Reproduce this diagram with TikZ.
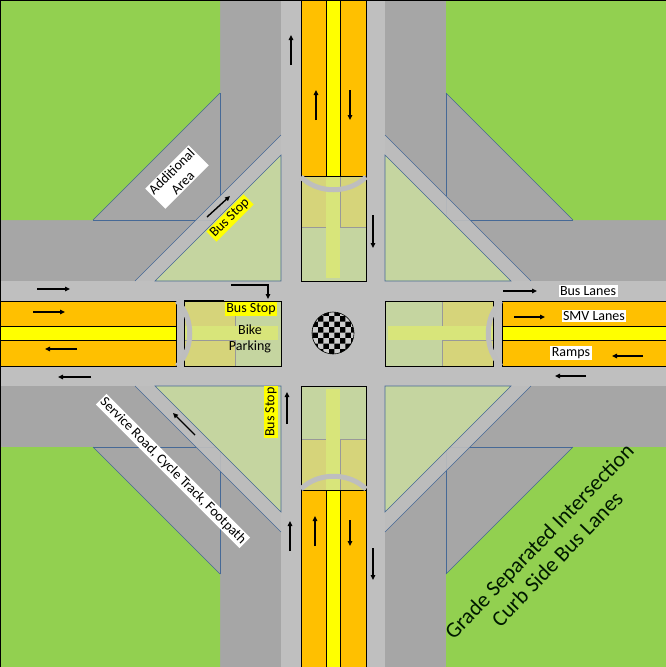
\documentclass[tikz,border=0pt]{standalone}
\usepackage{fontspec}
\setmainfont{Carlito}
\usetikzlibrary{arrows.meta,patterns}
\definecolor{dgray}{HTML}{A6A6A6}
\definecolor{lgray}{HTML}{BFBFBF}
\definecolor{grass}{HTML}{92D050}
\definecolor{orng}{HTML}{FFC000}
\definecolor{yel}{HTML}{FFFF00}
\definecolor{boxg}{RGB}{197,213,160}
\definecolor{olv}{RGB}{214,212,122}
\definecolor{strp}{RGB}{216,229,122}
\definecolor{bline}{RGB}{70,105,150}
\definecolor{arcg}{RGB}{190,190,190}
\tikzset{
 arr/.style={line width=1.4pt,-{Triangle[length=5pt,width=4.5pt]}},
 lbl/.style={fill=white,inner sep=1.5pt,font=\fontsize{14}{15.5}\selectfont,align=center},
 ylbl/.style={fill=yel,inner sep=1.5pt,font=\fontsize{14}{15}\selectfont},
 bl/.style={draw=bline,line width=0.6pt}
}
\newcommand\quadTL{%
 \fill[dgray] (0,0) rectangle (281,281);
 \fill[grass] (0,0) -- (220,0) -- (220,93) -- (93,220) -- (0,220) -- cycle;
 \draw[bl] (220,93) -- (93,220);
 \draw[bl] (220,93) -- (220,220) -- (93,220);
 \fill[lgray,opacity=0.9] (281,135) -- (281,155) -- (155,281) -- (135,281) -- cycle;
 \draw[bl] (281,135) -- (135,281);
 \fill[boxg] (281,155) -- (281,281) -- (155,281) -- cycle;
 \draw[bl] (281,155) -- (281,281) -- (155,281) -- cycle;
}
\newcommand\armT[2]{%
 \fill[orng] (301,0) rectangle (366,#1);
 \fill[yel] (326,0) rectangle (340,#1);
 \draw[line width=0.6pt] (301,-2) rectangle (366,#1);
 \draw[line width=0.6pt] (326,0) -- (326,#1) (340,0) -- (340,#1);
 \fill[boxg] (301,#2) rectangle (366,281);
 \filldraw[fill=olv,draw=gray!80,line width=0.4pt] (301,#2) rectangle (326,#2+51);
 \filldraw[fill=olv,draw=gray!80,line width=0.4pt] (340,#2) rectangle (366,#2+51);
 \fill[strp] (326,#2) rectangle (340,278);
 \draw[line width=0.6pt] (301,#2) rectangle (366,281);
 \draw[arcg,line width=5pt] (301,#1+1) .. controls (318,#1+18) and (349,#1+18) .. (366,#1+1);
}
\begin{document}
\begin{tikzpicture}[x=1pt,y=-1pt]
\useasboundingbox (0,0) rectangle (666,667);
\fill[lgray] (0,0) rectangle (666,667);
\quadTL
\begin{scope}[shift={(666,0)},xscale=-1]\quadTL\end{scope}
\begin{scope}[shift={(0,667)},yscale=-1]\quadTL\end{scope}
\begin{scope}[shift={(666,667)},xscale=-1,yscale=-1]\quadTL\end{scope}
% arms
\armT{176}{176}
\begin{scope}[shift={(0,667)},yscale=-1]\armT{177}{177}\end{scope}
\begin{scope}[cm={0,-1,-1,0,(0,0)}]\armT{176}{184}\end{scope}
\begin{scope}[cm={0,-1,1,0,(666pt,0)}]\armT{164}{173}\end{scope}
% centre circle
\fill[green!15!white] (333,333) circle (21);
\fill[pattern=checkerboard light gray,pattern color=green!50!black] (333,333) circle (21);
\draw[line width=0.6pt] (333,333) circle (21);
% bus stop marks
\draw[line width=1.5pt] (184,301) -- (224,301);
\draw[arr] (231,285) -- (268,285) -- (268,299);
% arrows
\draw[arr] (291,65) -- (291,35);
\draw[arr] (316,120) -- (316,90);
\draw[arr] (350,90) -- (350,120);
\draw[arr] (373,215) -- (373,248);
\draw[arr] (37,289) -- (70,289);
\draw[arr] (33,312) -- (65,312);
\draw[arr] (77,349) -- (45,349);
\draw[arr] (91,377) -- (58,377);
\draw[arr] (503,291) -- (537,291);
\draw[arr] (514,317) -- (545,317);
\draw[arr] (643,356) -- (612,356);
\draw[arr] (586,376) -- (555,376);
\draw[arr] (287,424) -- (287,392);
\draw[arr] (290,551) -- (290,521);
\draw[arr] (315,546) -- (315,516);
\draw[arr] (350,520) -- (350,546);
\draw[arr] (373,548) -- (373,580);
\draw[arr] (207,217) -- (230,196);
\draw[arr] (195,435) -- (173,413);
% labels
\node[lbl,rotate=45] (addl) at (177,177) {Additional\\Area};
\node[ylbl,rotate=45] (bs1) at (230,218) {Bus Stop};
\node[ylbl] (bs2) at (251,309) {Bus Stop};
\node[font=\fontsize{14}{16}\selectfont,align=center] (bike) at (250,339) {Bike\\Parking};
\node[ylbl,rotate=90] (bs3) at (271,412) {Bus Stop};
\node[lbl] (buslanes) at (588,291) {Bus Lanes};
\node[lbl] (smv) at (594,316) {SMV Lanes};
\node[lbl] (ramps) at (571,353) {Ramps};
\node[lbl,rotate=-45] (svc) at (173,471) {Service Road, Cycle Track, Footpath};
\node[font=\fontsize{22}{25}\selectfont,align=center,rotate=46,text=black!90!green] (title) at (548,550) {Grade Separated Intersection\\Curb Side Bus Lanes};
\draw[line width=0.8pt] (0,0) rectangle (666,667);
\end{tikzpicture}
\end{document}
